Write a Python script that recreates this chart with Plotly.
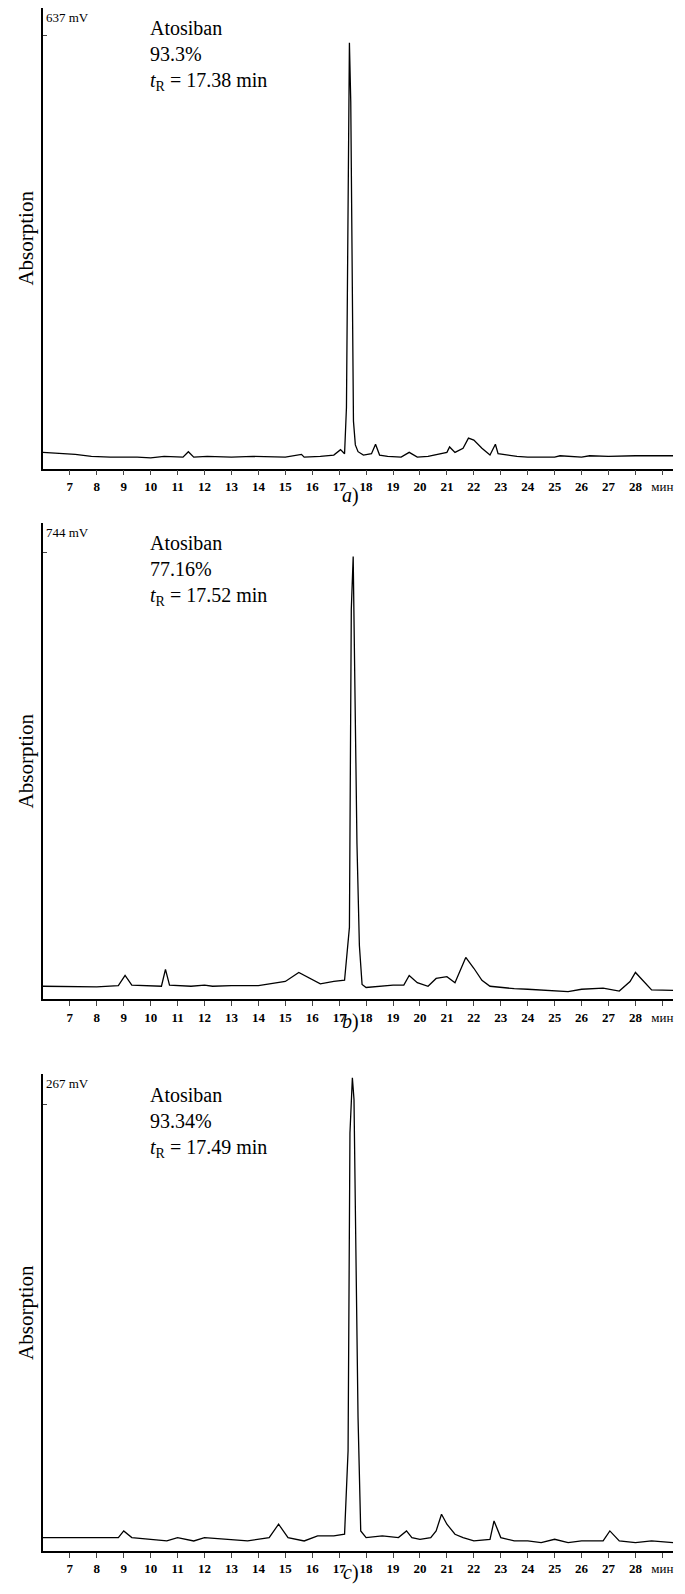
import plotly.graph_objs as go

# retention time (min) / signal (mV)
time_a = [6.0, 6.6, 7.2, 7.8, 8.5, 9.5, 10.0, 10.5, 11.2, 11.4, 11.6, 12.1, 13.0, 13.8, 15.0, 15.6, 15.7, 16.3, 16.8, 17.05, 17.2, 17.27, 17.32, 17.38,
          17.43, 17.48, 17.53, 17.6, 17.7, 17.9, 18.2, 18.35, 18.5, 18.8, 19.3, 19.6, 19.9, 20.3, 20.7, 21.0, 21.1, 21.3, 21.6, 21.8,
          22.0, 22.3, 22.6, 22.8, 22.9, 23.2, 23.6, 24.0, 25.0, 25.2, 26.0, 26.3, 27.0, 28.0, 29.4]
sig_a = [24, 23, 21, 18, 17, 17, 16, 18, 17, 25, 17, 18, 17, 18, 17, 21, 17, 18, 20, 28, 22, 90, 400, 627,
         540, 260, 70, 35, 25, 20, 22, 36, 20, 18, 17, 24, 17, 18, 22, 24, 32, 24, 30, 45,
         42, 30, 20, 36, 22, 20, 18, 17, 17, 19, 17, 19, 18, 19, 19]

time_b = [6.0, 7.5, 8.0, 8.8, 9.05, 9.3, 10.0, 10.4, 10.55, 10.7, 11.5, 12.0, 12.3, 13.0, 14.0, 14.5, 15.0, 15.5, 15.8, 16.3, 16.8,
          17.2, 17.38, 17.45, 17.52, 17.58, 17.66, 17.75, 17.85, 18.0, 18.5, 19.0, 19.4, 19.6, 19.9, 20.3, 20.6, 21.0, 21.3,
          21.7, 22.0, 22.3, 22.6, 23.0, 23.5, 24.0, 25.0, 25.5, 26.0, 26.8, 27.4, 27.8, 28.0, 28.3, 28.6, 29.4]
sig_b = [22, 22, 21, 23, 40, 24, 22, 22, 50, 24, 22, 24, 22, 23, 23, 26, 30, 45, 38, 26, 30,
         32, 120, 650, 738, 560, 260, 90, 25, 20, 22, 24, 24, 40, 28, 22, 35, 38, 28,
         70, 52, 32, 22, 20, 18, 17, 15, 13, 17, 19, 14, 30, 45, 30, 16, 15]

time_c = [6.0, 8.8, 9.0, 9.3, 10.6, 11.0, 11.6, 12.0, 13.6, 14.4, 14.75, 15.1, 15.7, 16.2, 16.8, 17.2, 17.33, 17.4, 17.49,
          17.55, 17.62, 17.7, 17.8, 18.0, 18.6, 19.2, 19.5, 19.7, 20.0, 20.4, 20.6, 20.8, 21.0, 21.3, 21.6, 22.0, 22.6,
          22.75, 23.0, 23.5, 24.0, 24.5, 25.0, 25.5, 26.0, 26.8, 27.05, 27.4, 28.0, 28.6, 29.4]
sig_c = [8, 8, 12, 8, 6, 8, 6, 8, 6, 8, 16, 8, 6, 9, 9, 10, 60, 250, 283,
         270, 180, 80, 12, 8, 9, 8, 12, 8, 7, 8, 12, 22, 16, 10, 8, 6, 7,
         18, 8, 6, 6, 5, 7, 5, 6, 6, 12, 6, 5, 6, 5]

panels = [
    dict(t=time_a, s=sig_a, full=637, top=678, dom=(0.711, 1.0), label='a', text=('93.3%', '17.38'), ly=0.686),
    dict(t=time_b, s=sig_b, full=744, top=794, dom=(0.378, 0.677), label='b', text=('77.16%', '17.52'), ly=0.356),
    dict(t=time_c, s=sig_c, full=267, top=285, dom=(0.032, 0.331), label='c', text=('93.34%', '17.49'), ly=0.010),
]
ticks = list(range(7, 29))

fig = go.Figure()
font = dict(family='Liberation Serif', color='black')

for i, p in enumerate(panels):
    n = '' if i == 0 else str(i + 1)
    fig.add_trace(go.Scatter(x=p['t'], y=p['s'], mode='lines', line=dict(color='black', width=1.3),
                             xaxis='x' + n, yaxis='y' + n, showlegend=False))
    fig.layout['xaxis' + n] = dict(domain=[0.051, 0.971], range=[6.0, 29.4], anchor='y' + n,
                                   tickvals=ticks + [29], ticktext=[f'<b>{v}</b>' for v in ticks] + ['мин'],
                                   ticks='outside', ticklen=5, showline=True, linecolor='black', linewidth=1.5,
                                   showgrid=False, zeroline=False, tickfont=dict(size=13, **font))
    fig.layout['yaxis' + n] = dict(domain=list(p['dom']), range=[0, p['top']], anchor='x' + n,
                                   tickvals=[p['full']], showticklabels=False, ticks='inside', ticklen=4,
                                   showline=True, linecolor='black', linewidth=1.5, showgrid=False, zeroline=False,
                                   title=dict(text='Absorption', font=dict(size=21, **font), standoff=2))
    xr, yr = 'x' + n, 'y' + n
    fig.add_annotation(x=6.05, y=p['top'], xref=xr, yref=yr, text=f"{p['full']} mV", showarrow=False,
                       xanchor='left', yanchor='top', font=dict(size=13, **font))
    fig.add_annotation(x=9.9, y=p['top'] * 0.985, xref=xr, yref=yr,
                       text=f"Atosiban<br>{p['text'][0]}<br><i>t</i><sub>R</sub> = {p['text'][1]} min",
                       showarrow=False, xanchor='left', yanchor='top', align='left',
                       font=dict(size=20, **font))
    fig.add_annotation(x=0.5, y=p['ly'], xref='paper', yref='paper', text=f"<i>{p['label']}</i>)",
                       showarrow=False, yanchor='bottom', font=dict(size=20, **font))

fig.update_layout(width=685, height=1594, margin=dict(l=0, r=0, t=0, b=0),
                  plot_bgcolor='white', paper_bgcolor='white')
fig.write_html('out.html')
